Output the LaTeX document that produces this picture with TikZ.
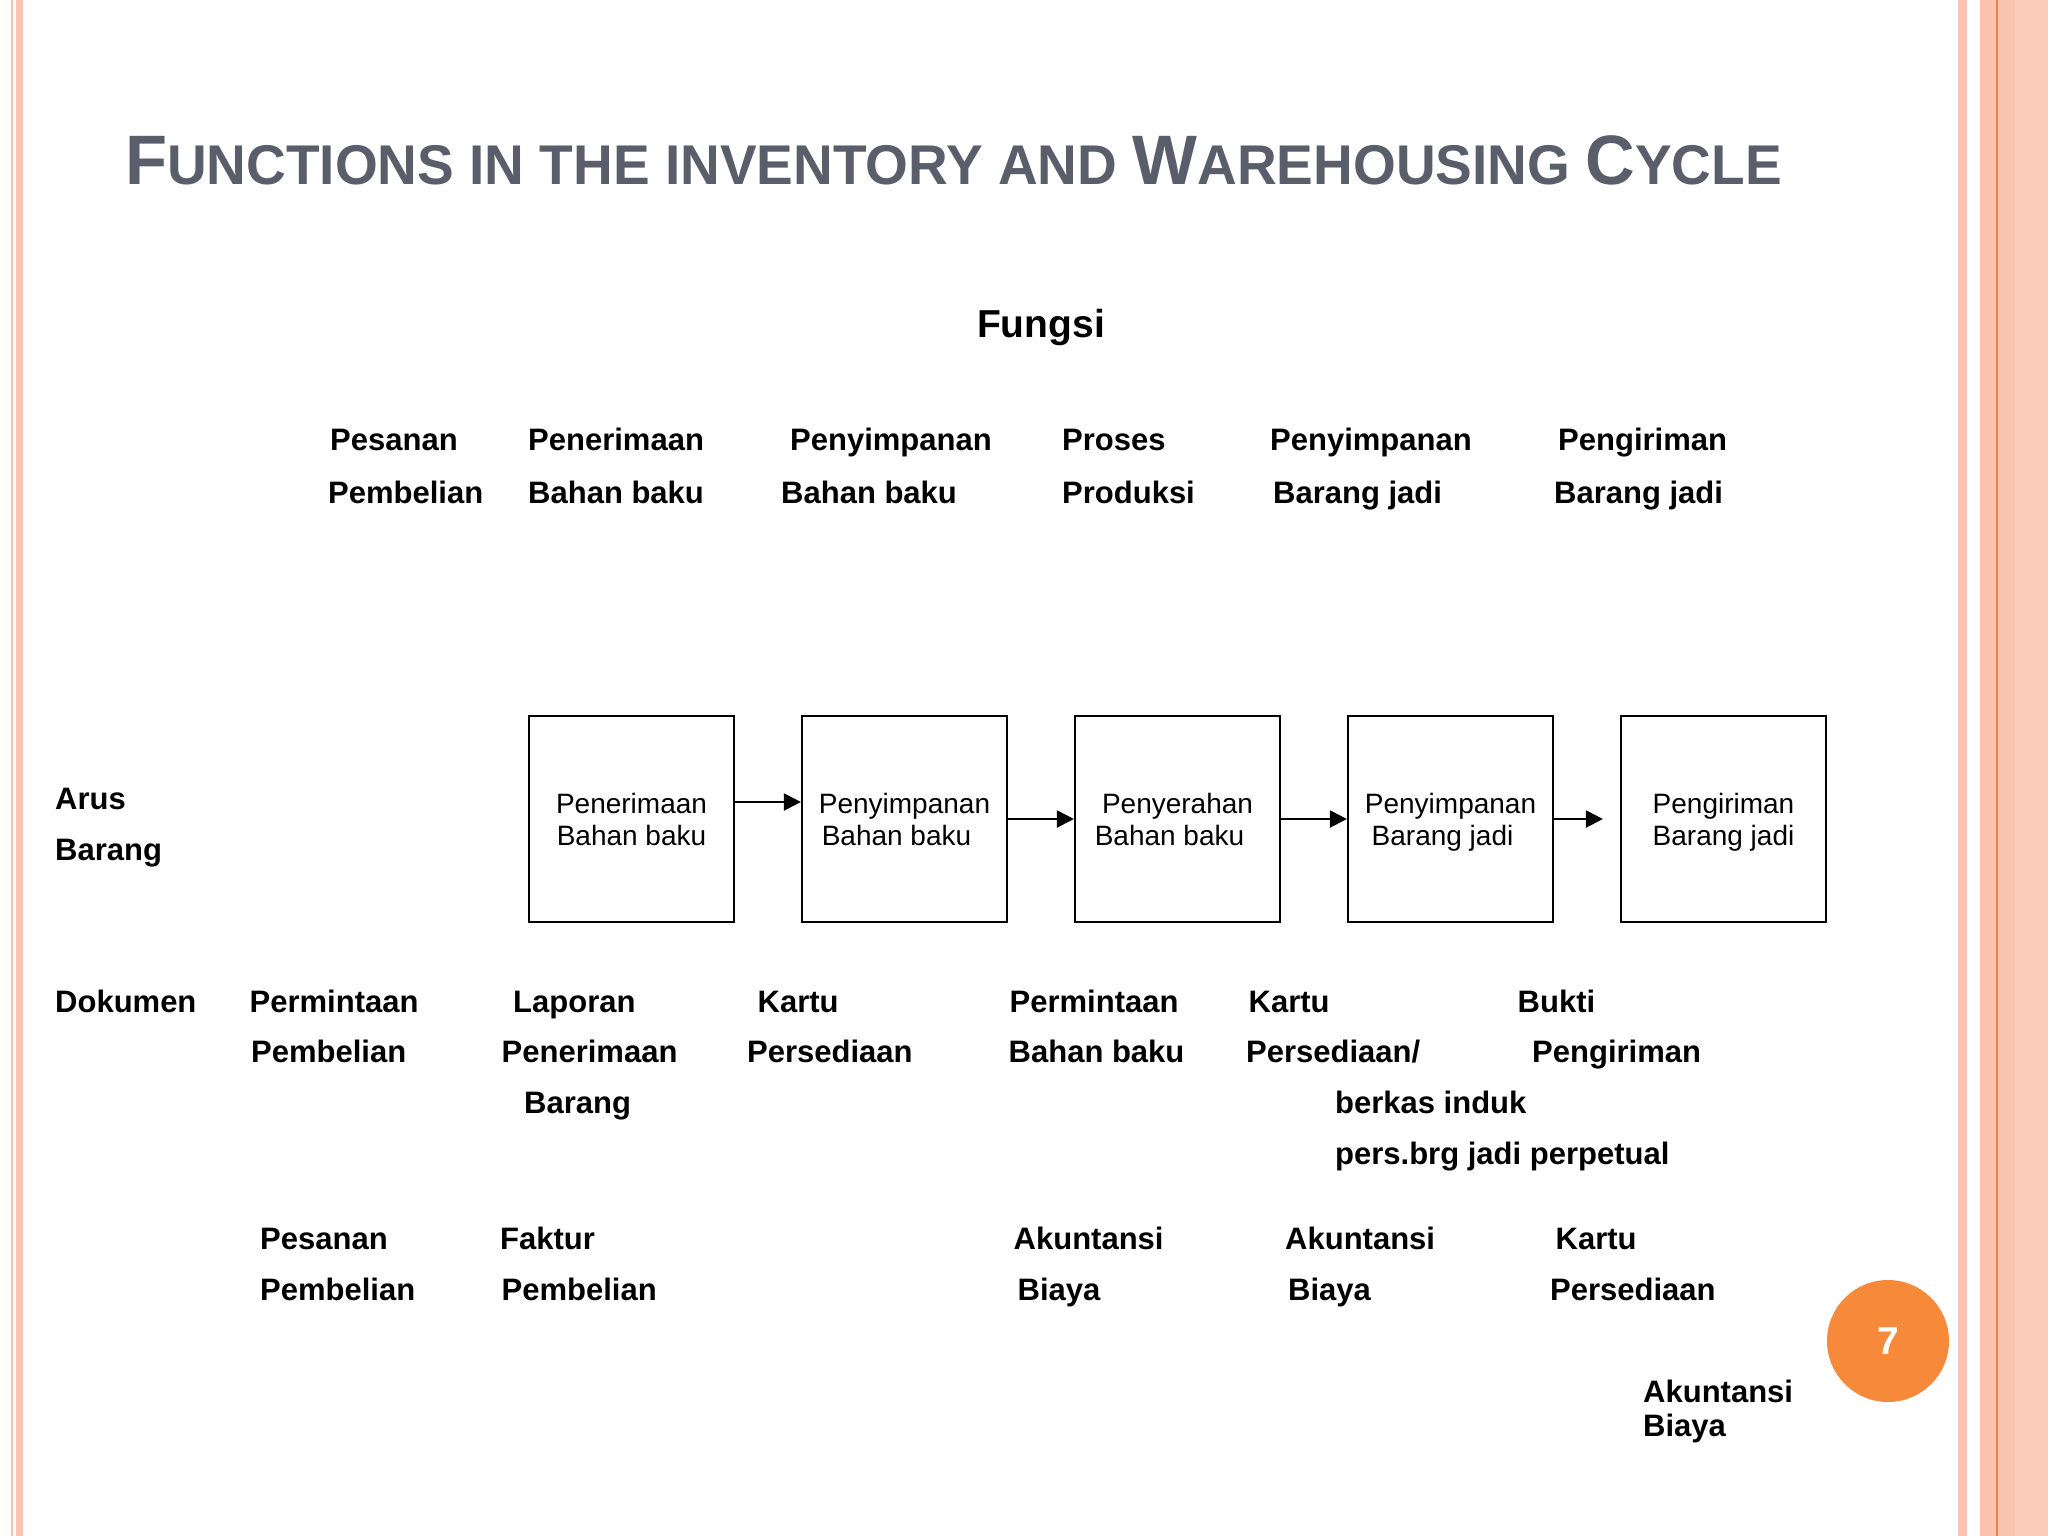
\documentclass[tikz,border=0pt]{standalone}
\usepackage{fontspec}
\setmainfont{Liberation Sans}
\usetikzlibrary{arrows.meta}
\definecolor{stripe}{RGB}{251,196,176}
\definecolor{stripelight}{RGB}{249,204,186}
\definecolor{stripeline}{RGB}{240,130,70}
\definecolor{titlegray}{RGB}{89,94,106}
\definecolor{pageorange}{RGB}{247,137,59}
\newcommand{\bigc}[1]{{\fontsize{70}{70}\selectfont #1}}
\begin{document}
\begin{tikzpicture}[x=1pt,y=-1pt,
  lbl/.style={anchor=base west, inner sep=0pt, font=\fontsize{31}{31}\selectfont\bfseries},
  fbox/.style={draw, line width=2.2pt, minimum width=205pt, minimum height=206pt, inner sep=0pt, align=center, text depth=0pt, font=\fontsize{28}{32}\selectfont},
  flow/.style={line width=2.2pt, -{Triangle[length=17pt,width=17pt]}}]
\useasboundingbox (0,0) rectangle (2048,1536);
\fill[white] (0,0) rectangle (2048,1536);
% side stripes
\fill[stripe] (10.7,0) rectangle (13.3,1536);
\fill[stripe] (15.7,0) rectangle (23.3,1536);
\fill[stripe] (1958,0) rectangle (1967,1536);
\fill[stripe] (1980,0) rectangle (2015,1536);
\fill[stripelight] (2015,0) rectangle (2048,1536);
\fill[stripeline] (1996.3,0) rectangle (1997.8,1536);
% title
\node[anchor=base west, inner sep=0pt, text=titlegray, font=\fontsize{56}{56}\selectfont\bfseries] (title) at (125,184)
  {\scalebox{0.982}[1]{\bigc{F}UNCTIONS IN THE INVENTORY AND \bigc{W}AREHOUSING \bigc{C}YCLE}};
\node[anchor=base, inner sep=0pt, font=\fontsize{39}{39}\selectfont\bfseries] (fungsi) at (1041,337) {Fungsi};
% function headers
\node[lbl] (h1a) at (330,450) {Pesanan};
\node[lbl] (h1b) at (328,503) {Pembelian};
\node[lbl] (h2a) at (528,450) {Penerimaan};
\node[lbl] (h2b) at (528,503) {Bahan baku};
\node[lbl] (h3a) at (790,450) {Penyimpanan};
\node[lbl] (h3b) at (781,503) {Bahan baku};
\node[lbl] (h4a) at (1062,450) {Proses};
\node[lbl] (h4b) at (1062,503) {Produksi};
\node[lbl] (h5a) at (1270,450) {Penyimpanan};
\node[lbl] (h5b) at (1273,503) {Barang jadi};
\node[lbl] (h6a) at (1558,450) {Pengiriman};
\node[lbl] (h6b) at (1554,503) {Barang jadi};
% arus barang
\node[lbl] (arus1) at (55,809) {Arus};
\node[lbl] (arus2) at (55,860) {Barang};
\node[fbox] (b1) at (631.5,819) {Penerimaan\\Bahan baku};
\node[fbox] (b2) at (904.5,819) {Penyimpanan\\Bahan baku\hspace*{16pt}};
\node[fbox] (b3) at (1177.5,819) {Penyerahan\\Bahan baku\hspace*{16pt}};
\node[fbox] (b4) at (1450.5,819) {Penyimpanan\\Barang jadi\hspace*{16pt}};
\node[fbox] (b5) at (1723.5,819) {Pengiriman\\Barang jadi};
\draw[flow] ([yshift=17pt]b1.east) -- ([yshift=17pt]b2.west);
\draw[flow] (b2.east) -- (b3.west);
\draw[flow] (b3.east) -- (b4.west);
\draw[flow] (b4.east) -- ([xshift=-17pt]b5.west);
% dokumen
\node[lbl] (dok) at (55,1012) {Dokumen};
\node[lbl] (d1a) at (249.5,1012) {Permintaan};
\node[lbl] (d1b) at (251,1062) {Pembelian};
\node[lbl] (d2a) at (513,1012) {Laporan};
\node[lbl] (d2b) at (501.5,1062) {Penerimaan};
\node[lbl] (d2c) at (524,1113) {Barang};
\node[lbl] (d3a) at (757.5,1012) {Kartu};
\node[lbl] (d3b) at (747,1062) {Persediaan};
\node[lbl] (d4a) at (1009.5,1012) {Permintaan};
\node[lbl] (d4b) at (1008.5,1062) {Bahan baku};
\node[lbl] (d5a) at (1248.5,1012) {Kartu};
\node[lbl] (d5b) at (1246,1062) {Persediaan/};
\node[lbl] (d5c) at (1335,1113) {berkas induk};
\node[lbl] (d5d) at (1335,1164) {pers.brg jadi perpetual};
\node[lbl] (d6a) at (1517.5,1012) {Bukti};
\node[lbl] (d6b) at (1532,1062) {Pengiriman};
\node[lbl] (e1a) at (260,1249) {Pesanan};
\node[lbl] (e1b) at (260,1300) {Pembelian};
\node[lbl] (e2a) at (500,1249) {Faktur};
\node[lbl] (e2b) at (501.5,1300) {Pembelian};
\node[lbl] (e3a) at (1013.5,1249) {Akuntansi};
\node[lbl] (e3b) at (1017.5,1300) {Biaya};
\node[lbl] (e4a) at (1285,1249) {Akuntansi};
\node[lbl] (e4b) at (1288,1300) {Biaya};
\node[lbl] (e5a) at (1555.5,1249) {Kartu};
\node[lbl] (e5b) at (1550,1300) {Persediaan};
\node[lbl] (f1a) at (1643,1402) {Akuntansi};
\node[lbl] (f1b) at (1643,1436) {Biaya};
% page number
\node[circle, fill=pageorange, minimum size=122pt, inner sep=0pt, text=white, font=\fontsize{39}{39}\selectfont\bfseries] (page) at (1888,1341) {7};
\end{tikzpicture}
\end{document}
